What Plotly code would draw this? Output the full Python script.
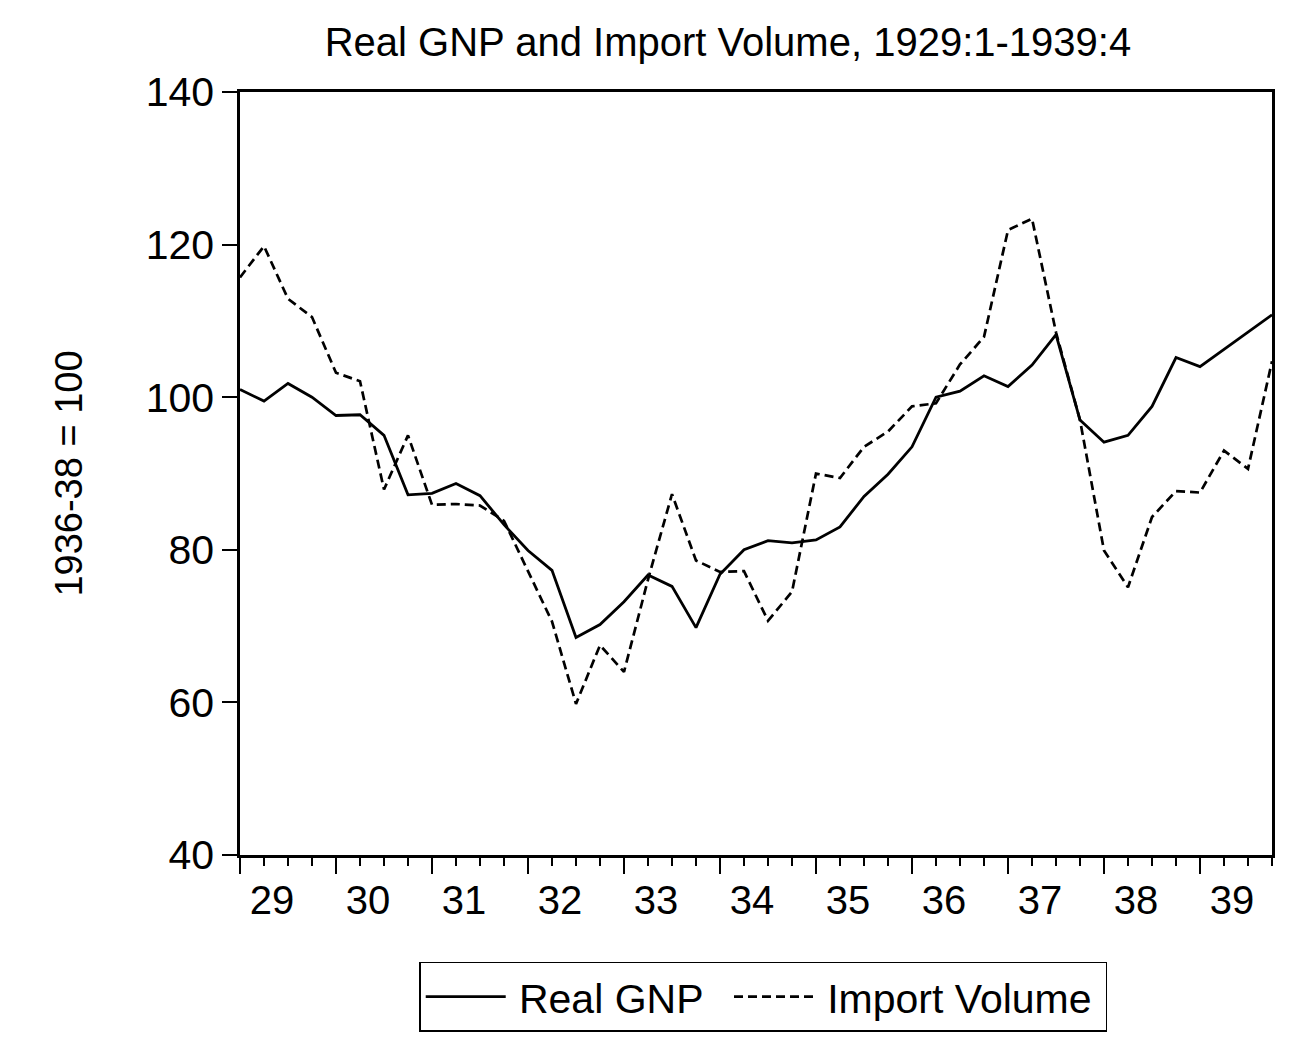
import plotly.graph_objects as go

# Quarterly data 1929:1 - 1939:4 (index 1936-38 = 100)
quarters = [f"{y}:{q}" for y in range(1929, 1940) for q in range(1, 5)]

real_gnp = [101.0, 99.5, 101.8, 100.0, 97.6, 97.7, 95.0, 87.2, 87.4, 88.7, 87.1, 83.3, 79.9, 77.3,
            68.5, 70.2, 73.2, 76.7, 75.2, 69.8, 76.8, 80.0, 81.2, 80.9, 81.3, 83.0, 87.0, 89.9, 93.5,
            100.0, 100.8, 102.8, 101.4, 104.2, 108.2, 97.0, 94.1, 95.0, 98.8, 105.2, 104.0, 106.3, 108.6, 110.8]

import_volume = [115.7, 119.8, 112.9, 110.5, 103.2, 102.1, 87.9, 95.0, 85.9, 86.0, 85.8, 83.8, 77.2, 70.6,
                 59.8, 67.5, 64.0, 76.1, 87.3, 78.6, 77.1, 77.2, 70.7, 74.5, 90.0, 89.4, 93.5, 95.5, 98.8,
                 99.2, 104.3, 107.9, 121.9, 123.4, 108.5, 97.0, 79.9, 75.1, 84.3, 87.7, 87.5, 93.0, 90.6, 104.7]

year_labels = ["29", "30", "31", "32", "33", "34", "35", "36", "37", "38", "39"]
series_names = ["Real GNP", "Import Volume"]

x = list(range(len(quarters)))
year_ticks = [i for i, q in enumerate(quarters) if q.endswith(":1")]

FONT = "Liberation Sans, Arial, Helvetica, sans-serif"

fig = go.Figure()
fig.add_trace(go.Scatter(x=x, y=real_gnp, mode="lines", name="\u2009" + series_names[0] + "\u2002",
                         text=quarters, line=dict(color="black", width=2.8)))
fig.add_trace(go.Scatter(x=x, y=import_volume, mode="lines", name="\u2009" + series_names[1] + "\u2009",
                         text=quarters, line=dict(color="black", width=2.7, dash="9px,5px")))

fig.update_layout(
    width=1314, height=1062,
    margin=dict(l=240, r=42, t=92, b=207),
    paper_bgcolor="white", plot_bgcolor="white",
    font=dict(family=FONT, color="black"),
    title=dict(text="Real GNP and Import Volume, 1929:1-1939:4",
               font=dict(size=40, family=FONT, color="black"),
               xref="container", x=0.554, xanchor="center",
               yref="container", y=1 - 42 / 1062, yanchor="middle"),
    showlegend=True,
    legend=dict(orientation="h", xref="paper", yref="paper",
                x=0.507, y=-0.186, xanchor="center", yanchor="middle",
                bordercolor="black", borderwidth=1.5, bgcolor="white",
                font=dict(size=41, family=FONT, color="black"),
                itemwidth=80, tracegroupgap=0),
)

fig.update_xaxes(
    range=[0, len(x) - 1],
    tickmode="array", tickvals=year_ticks, ticktext=year_labels,
    ticks="outside", ticklen=16, tickwidth=2, tickcolor="black",
    tickfont=dict(size=40, family=FONT, color="black"),
    ticklabelshift=32, ticklabelstandoff=-8,
    minor=dict(dtick=1, tick0=0, ticks="outside", ticklen=8, tickwidth=2,
               tickcolor="black", showgrid=False),
    showline=True, linewidth=2.5, linecolor="black", mirror=True,
    showgrid=False, zeroline=False,
)

fig.update_yaxes(
    range=[40, 140], tick0=40, dtick=20,
    ticks="outside", ticklen=15, tickwidth=2, tickcolor="black",
    tickfont=dict(size=41, family=FONT, color="black"),
    ticklabelstandoff=0,
    title=dict(text="1936-38 = 100", font=dict(size=38, family=FONT, color="black"), standoff=52),
    showline=True, linewidth=2.5, linecolor="black", mirror=True,
    showgrid=False, zeroline=False,
)

fig.write_html("out.html")
